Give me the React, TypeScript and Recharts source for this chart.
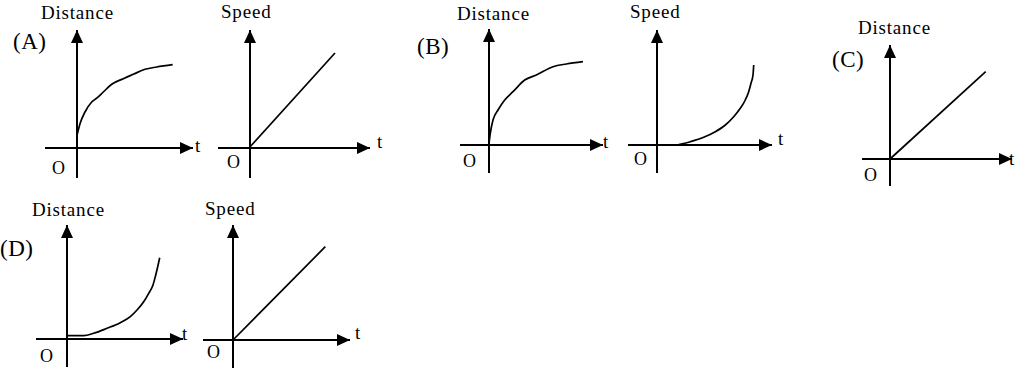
import { LineChart, Line, XAxis, YAxis, ReferenceLine, ReferenceDot } from 'recharts';

// values, in data units (t, value)
const aDistance = [
  { t: 0, v: 1.27 }, { t: 0.3, v: 2.43 }, { t: 0.8, v: 3.6 }, { t: 1.47, v: 4.6 },
  { t: 1.97, v: 4.98 }, { t: 2.63, v: 5.6 }, { t: 3.47, v: 6.37 }, { t: 4.63, v: 6.93 },
  { t: 5.63, v: 7.37 }, { t: 6.8, v: 7.87 }, { t: 7.97, v: 8.1 }, { t: 9.57, v: 8.33 },
];
const aSpeed = [{ t: -0.1, v: 0 }, { t: 8.5, v: 9.5 }];
const bDistance = [
  { t: 0, v: 0.17 }, { t: 0.13, v: 1.17 }, { t: 0.4, v: 2.5 }, { t: 0.9, v: 3.5 },
  { t: 1.57, v: 4.5 }, { t: 2.4, v: 5.33 }, { t: 3.57, v: 6.5 }, { t: 4.73, v: 7.0 },
  { t: 6.4, v: 7.83 }, { t: 7.73, v: 8.1 }, { t: 9.4, v: 8.33 },
];
const bSpeed = [
  { t: 2.0, v: 0 }, { t: 3.33, v: 0.33 }, { t: 4.67, v: 0.77 }, { t: 5.83, v: 1.33 },
  { t: 6.83, v: 2.0 }, { t: 7.67, v: 2.83 }, { t: 8.33, v: 3.67 }, { t: 8.83, v: 4.5 },
  { t: 9.17, v: 5.33 }, { t: 9.4, v: 6.17 }, { t: 9.6, v: 7.0 }, { t: 9.67, v: 8.0 },
];
const cDistance = [{ t: 0, v: 0 }, { t: 9.57, v: 8.73 }];
const dDistance = [
  { t: 0, v: 0.33 }, { t: 1.67, v: 0.33 }, { t: 2.67, v: 0.57 }, { t: 4.0, v: 1.07 },
  { t: 5.33, v: 1.63 }, { t: 6.33, v: 2.23 }, { t: 7.0, v: 2.9 }, { t: 7.67, v: 3.73 },
  { t: 8.17, v: 4.57 }, { t: 8.6, v: 5.4 }, { t: 8.83, v: 6.23 }, { t: 9.07, v: 7.23 },
  { t: 9.27, v: 8.13 },
];
const dSpeed = [{ t: 0, v: 0 }, { t: 9.23, v: 9.33 }];

const titles = ['Distance', 'Speed'];
const letters = ['(A)', '(B)', '(C)', '(D)'];
const originLabel = 'O';
const timeLabel = 't';

const UNIT = 10; // px per data unit
const PAD = 10;
const FONT = '"Liberation Serif", "Times New Roman", serif';

const panels = [
  { id: 'aDist', data: aDistance, title: titles[0], ox: 77, oy: 148, xDomain: [-3.2, 11.6], yDomain: [-3.0, 11.8], titlePos: [41, 12.5], oPos: [52, 167.5], tPos: [195, 145] },
  { id: 'aSpeed', data: aSpeed, title: titles[1], ox: 250, oy: 148, xDomain: [-3.2, 12.0], yDomain: [-3.0, 11.8], titlePos: [221, 11], oPos: [227, 162], tPos: [377, 141] },
  { id: 'bDist', data: bDistance, title: titles[0], ox: 489, oy: 145, xDomain: [-2.9, 11.4], yDomain: [-2.8, 11.6], titlePos: [457, 13.5], oPos: [463, 161], tPos: [603, 141] },
  { id: 'bSpeed', data: bSpeed, title: titles[1], ox: 657, oy: 145, xDomain: [-2.9, 11.5], yDomain: [-2.8, 11.5], titlePos: [630, 11], oPos: [634, 159], tPos: [778, 138.5] },
  { id: 'cDist', data: cDistance, title: titles[0], ox: 890, oy: 159, xDomain: [-2.8, 12.2], yDomain: [-2.7, 11.4], titlePos: [858, 27.5], oPos: [864, 175], tPos: [1009, 158] },
  { id: 'dDist', data: dDistance, title: titles[0], ox: 67, oy: 339, xDomain: [-3.1, 11.6], yDomain: [-2.8, 11.4], titlePos: [32, 209.5], oPos: [40, 356], tPos: [182, 333] },
  { id: 'dSpeed', data: dSpeed, title: titles[1], ox: 233, oy: 340, xDomain: [-3.0, 11.7], yDomain: [-2.8, 11.5], titlePos: [205, 208.5], oPos: [207, 352], tPos: [355, 332.5] },
];

const letterPos = [[13, 41], [417, 46], [832, 59], [0, 248]];

const ArrowRight = (props: any) => {
  const { cx, cy } = props;
  return <polygon points={`${cx},${cy} ${cx - 13},${cy - 6} ${cx - 13},${cy + 6}`} fill="#000" />;
};

const ArrowUp = (props: any) => {
  const { cx, cy } = props;
  return <polygon points={`${cx},${cy} ${cx - 6},${cy + 13} ${cx + 6},${cy + 13}`} fill="#000" />;
};

const Text = ({ text, x, y, size, spacing = 0 }: any) => (
  <div
    style={{
      position: 'absolute',
      left: x,
      top: y - size / 2,
      fontSize: size,
      lineHeight: 1,
      fontFamily: FONT,
      letterSpacing: spacing,
      color: '#000',
      whiteSpace: 'nowrap',
    }}
  >
    {text}
  </div>
);

const Graph = ({ data, ox, oy, xDomain, yDomain }: any) => {
  const width = (xDomain[1] - xDomain[0]) * UNIT + PAD * 2;
  const height = (yDomain[1] - yDomain[0]) * UNIT + PAD * 2;
  return (
    <div style={{ position: 'absolute', left: ox + xDomain[0] * UNIT - PAD, top: oy - yDomain[1] * UNIT - PAD }}>
      <LineChart width={width} height={height} data={data} margin={{ top: PAD, right: PAD, bottom: PAD, left: PAD }}>
        <XAxis type="number" dataKey="t" domain={xDomain} allowDataOverflow hide />
        <YAxis type="number" domain={yDomain} allowDataOverflow hide />
        <ReferenceLine y={0} stroke="#000" strokeWidth={2} />
        <ReferenceLine x={0} stroke="#000" strokeWidth={2} />
        <ReferenceDot x={xDomain[1]} y={0} shape={ArrowRight} ifOverflow="visible" />
        <ReferenceDot x={0} y={yDomain[1]} shape={ArrowUp} ifOverflow="visible" />
        <Line
          type="monotone"
          dataKey="v"
          stroke="#000"
          strokeWidth={1.7}
          dot={false}
          activeDot={false}
          isAnimationActive={false}
        />
      </LineChart>
    </div>
  );
};

export default function App() {
  return (
    <div style={{ position: 'fixed', left: 0, top: 0, width: 1022, height: 386, background: '#fff' }}>
      {panels.map((p) => (
        <div key={p.id}>
          <Graph data={p.data} ox={p.ox} oy={p.oy} xDomain={p.xDomain} yDomain={p.yDomain} />
          <Text text={p.title} x={p.titlePos[0]} y={p.titlePos[1]} size={19} spacing={0.8} />
          <Text text={originLabel} x={p.oPos[0]} y={p.oPos[1]} size={18} />
          <Text text={timeLabel} x={p.tPos[0]} y={p.tPos[1]} size={19} />
        </div>
      ))}
      {letters.map((l, i) => (
        <Text key={l} text={l} x={letterPos[i][0]} y={letterPos[i][1]} size={23} spacing={0.5} />
      ))}
    </div>
  );
}
